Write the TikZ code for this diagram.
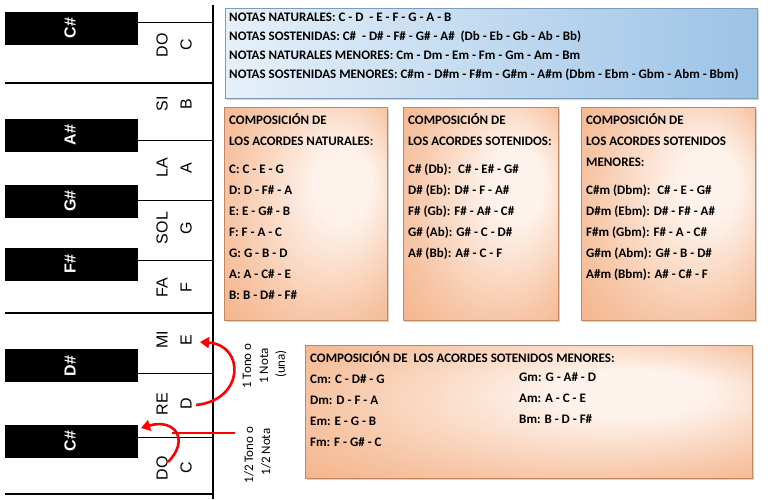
\documentclass[tikz,border=0pt]{standalone}
\usepackage{fontspec}
\setmainfont{Carlito}
\setsansfont{Liberation Sans}
\usetikzlibrary{shadows,arrows.meta}
\definecolor{blueA}{HTML}{9DC3E6}
\definecolor{blueB}{HTML}{E6F0F9}
\definecolor{orA}{HTML}{F2A878}
\definecolor{orB}{HTML}{FEF3EC}
\pgfdeclareradialshading{orshade}{\pgfpoint{0.5cm}{0.3cm}}{color(0cm)=(orB); color(0.3cm)=(orB); color(1.0cm)=(orA!60!orB); color(1.6cm)=(orA)}
\begin{document}
\begin{tikzpicture}[x=1pt,y=-1pt,
  bluebox/.style={draw=blueA!80!black,line width=0.5pt,left color=blueB,right color=blueA,drop shadow={shadow xshift=2pt,shadow yshift=-2pt,fill=gray!70}},
  orbox/.style={draw=orA!80!black,line width=0.5pt,shading=orshade,drop shadow={shadow xshift=2pt,shadow yshift=-2pt,fill=gray!70}},
  txt/.style={anchor=north west,align=left,inner sep=0pt,font=\fontsize{13}{21}\selectfont\bfseries},
  blk/.style={fill=black},
  blab/.style={rotate=90,text=white,font=\fontsize{16}{16}\selectfont\sffamily\bfseries},
  wlab/.style={rotate=90,font=\fontsize{16}{16}\selectfont\sffamily},
  note/.style={rotate=90,anchor=center,font=\fontsize{13}{13}\selectfont},
  keyline/.style={line width=1.2pt},
  redarr/.style={red,line width=2.6pt,-{Triangle[length=9pt,width=11pt]}}]
\useasboundingbox (0,0) rectangle (768,499);
% piano
\foreach \y in {12,119,185,248,349,425}{
  \fill[blk] (5,\y) rectangle (138,\y+33);}
\node[blab] (k1) at (70,28) {C\#};
\node[blab] (k2) at (70,135) {A\#};
\node[blab] (k3) at (70,201) {G\#};
\node[blab] (k4) at (70,264) {F\#};
\node[blab] (k5) at (70,366) {D\#};
\node[blab] (k6) at (70,441) {C\#};
\foreach \y in {22,140,200,260,373,437}{\draw[line width=0.8pt] (138,\y) -- (213,\y);}
\foreach \y in {83,313,494}{\draw[keyline] (5,\y) -- (213,\y);}
\draw[line width=2.5pt] (213,5) -- (213,499);
\foreach \y/\a/\b/\n in {45/DO/C/w1,104/SI/B/w2,168/LA/A/w3,228/SOL/G/w4,288/FA/F/w5,340/MI/E/w6,404/RE/D/w7,468/DO/C/w8}{
  \node[wlab] (\n a) at (162,\y) {\a};
  \node[wlab] (\n b) at (186,\y) {\b};}
% red arrows
\coordinate (d) at (196,405);
\coordinate (e) at (200,342);
\draw[redarr] (d) .. controls (245,400) and (245,345) .. (e);
\coordinate (c) at (168,462);
\coordinate (cs) at (141,428);
\draw[redarr] (c) .. controls (190,440) and (175,418) .. (cs);
\coordinate (lineA) at (235,433);
\coordinate (lineB) at (172,433);
\draw[red,line width=1.2pt] (lineA) -- (lineB);
\node[note] (n1) at (247,366) {1 Tono o};
\node[note] (n2) at (264,366) {1 Nota};
\node[note] (n3) at (281,364) {(una)};
\node[note] (n4) at (249,455) {1/2 Tono o};
\node[note] (n5) at (266,452) {1/2 Nota};
% boxes
\draw[bluebox] (225,8) rectangle (757,98);
\node[txt,font=\fontsize{13}{19}\selectfont\bfseries] (t0) at (229,13) {NOTAS NATURALES: C - D \ - E - F - G - A - B\\
NOTAS SOSTENIDAS: C\# \ - D\# - F\# - G\# - A\# \ (Db - Eb - Gb - Ab - Bb)\\
NOTAS NATURALES MENORES: Cm - Dm - Em - Fm - Gm - Am - Bm\\
NOTAS SOSTENIDAS MENORES: C\#m - D\#m - F\#m - G\#m - A\#m (Dbm - Ebm - Gbm - Abm - Bbm)};
\draw[orbox] (224,107) rectangle (387,320);
\draw[orbox] (403,107) rectangle (558,320);
\draw[orbox] (581,107) rectangle (755,320);
\draw[orbox] (305,345) rectangle (752,478);
\node[txt] (t1) at (229,113) {COMPOSICIÓN DE\\ LOS ACORDES NATURALES:\\[7pt]
C: C - E - G\\ D: D - F\# - A\\ E: E - G\# - B\\ F: F - A - C\\ G: G - B - D\\ A: A - C\# - E\\ B: B - D\# - F\#};
\node[txt] (t2) at (408,113) {COMPOSICIÓN DE\\ LOS ACORDES SOTENIDOS:\\[7pt]
C\# (Db): \ C\# - E\# - G\#\\ D\# (Eb): D\# - F - A\#\\ F\# (Gb): F\# - A\# - C\#\\ G\# (Ab): G\# - C - D\#\\ A\# (Bb): A\# - C - F};
\node[txt] (t3) at (586,113) {COMPOSICIÓN DE\\ LOS ACORDES SOTENIDOS\\ MENORES:\\[7pt]
C\#m (Dbm): \ C\# - E - G\#\\ D\#m (Ebm): D\# - F\# - A\#\\ F\#m (Gbm): F\# - A - C\#\\ G\#m (Abm): G\# - B - D\#\\ A\#m (Bbm): A\# - C\# - F};
\node[txt] (t4) at (310,351) {COMPOSICIÓN DE \ LOS ACORDES SOTENIDOS MENORES:\\
Cm: C - D\# - G\\ Dm: D - F - A\\ Em: E - G - B\\ Fm: F - G\# - C};
\node[txt] (t5) at (519,372) {Gm: G - A\# - D\\ Am: A - C - E\\ Bm: B - D - F\#};
\end{tikzpicture}
\end{document}
